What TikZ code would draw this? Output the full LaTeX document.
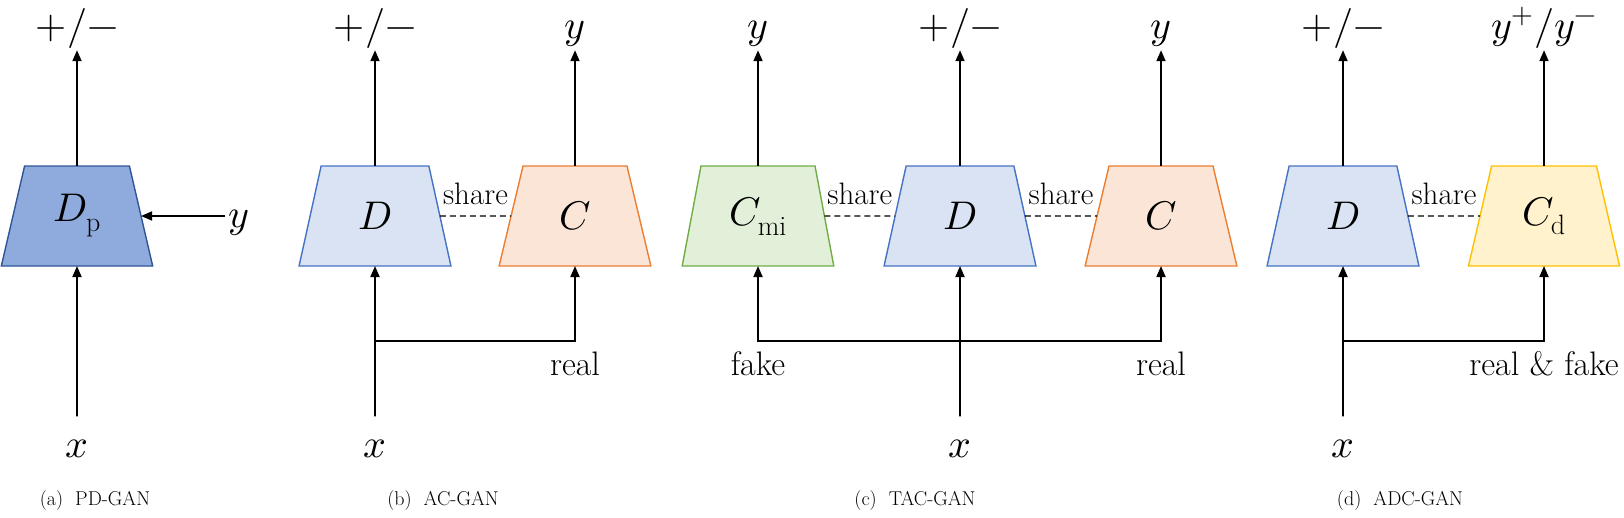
\documentclass[tikz,border=0pt]{standalone}
\usepackage{fontspec}
\usepackage{unicode-math}
\newfontfamily\labelfont{Latin Modern Roman}
\usetikzlibrary{shapes.geometric,arrows.meta,positioning}

\definecolor{dpfill}{HTML}{8FAADC}
\definecolor{dpline}{HTML}{2F5597}
\definecolor{dfill}{HTML}{DAE3F3}
\definecolor{dline}{HTML}{4472C4}
\definecolor{cfill}{HTML}{FBE5D6}
\definecolor{cline}{HTML}{ED7D31}
\definecolor{mifill}{HTML}{E2F0D9}
\definecolor{miline}{HTML}{70AD47}
\definecolor{cdfill}{HTML}{FFF2CC}
\definecolor{cdline}{HTML}{FFC000}

\newcommand{\mathsize}{\fontsize{40}{48}\selectfont}
\newcommand{\labelsize}{\labelfont\fontsize{34}{40}\selectfont}
\newcommand{\sharesize}{\labelfont\fontsize{31}{36}\selectfont}
\newcommand{\capsize}{\labelfont\fontsize{20}{24}\selectfont}
\newcommand{\advlabel}{{+}/{-}}
\newcommand{\clslabel}{y^{+}/y^{-}}

\tikzset{%
  every net/.style={
    trapezium,
    trapezium stretches=true,
    trapezium left angle=76,
    trapezium right angle=76,
    minimum width=152pt,
    minimum height=100pt,
    inner sep=0pt,
    outer sep=0pt,
    line width=1.4pt,
    font=\mathsize
  },
  net Dp/.style={draw=dpline, fill=dpfill},
  net D/.style={draw=dline, fill=dfill},
  net C/.style={draw=cline, fill=cfill},
  net Cmi/.style={draw=miline, fill=mifill},
  net Cd/.style={draw=cdline, fill=cdfill},
  arr/.style={-{Triangle[length=11pt,width=9pt]}, line width=1.8pt},
  share line/.style={dash pattern=on 6pt off 4pt, line width=1.4pt},
  out label/.style={font=\mathsize, anchor=base, text depth=10pt, inner sep=2pt},
  in label/.style={font=\mathsize, anchor=base, inner sep=2pt, outer ysep=21pt},
  src label/.style={font=\labelsize, anchor=base},
  share label/.style={font=\sharesize, above=9pt, inner sep=2pt},
  caption/.style={font=\capsize, anchor=base},
}

\begin{document}
\begin{tikzpicture}[x=1pt, y=-1pt]

\useasboundingbox (0,0) rectangle (1624,517);

% Networks
\foreach \n/\s/\x/\t in {a-D/Dp/77/D_{\mathrm{p}}, b-D/D/375/D, b-C/C/575/C,
    c-Cmi/Cmi/758/C_{\mathrm{mi}}, c-D/D/960/D, c-C/C/1161/C,
    d-D/D/1343/D, d-C/Cd/1544/C_{\mathrm{d}}}
  \node [every net/.try, net \s/.try] (\n) at (\x,216) {$\t$};

% Outputs
\foreach \n/\t in {a-D/\advlabel, b-D/\advlabel, b-C/y, c-Cmi/y,
    c-D/\advlabel, c-C/y, d-D/\advlabel, d-C/\clslabel} {
  \node [out label] (\n-out) at (\n.north |- 0,38) {$\t$};
  \draw [arr] (\n.north) -- (\n-out.south);
}

% Inputs
\foreach \p/\x in {a/77, b/375, c/960, d/1343} {
  \node [in label] (\p-x) at (\x,457) {$x$};
  \draw [arr] (\p-x.north) -- (\p-D.south);
}

\node [font=\mathsize] (a-y) at (239,223) {$y$};
\draw [arr] (a-y.west |- a-D.east) -- (a-D.east);

% Branches to the classifiers
\coordinate (b-j) at (b-x.north |- 0,341);
\coordinate (c-j) at (c-x.north |- 0,341);
\coordinate (d-j) at (d-x.north |- 0,341);
\draw [arr] (b-j) -| (b-C.south);
\draw [arr] (c-j) -| (c-Cmi.south);
\draw [arr] (c-j) -| (c-C.south);
\draw [arr] (d-j) -| (d-C.south);

\node [src label] (b-real) at (b-C.south |- 0,375) {real};
\node [src label] (c-fake) at (c-Cmi.south |- 0,375) {fake};
\node [src label] (c-real) at (c-C.south |- 0,375) {real};
\node [src label] (d-both) at (d-C.south |- 0,375) {real \& fake};

% Shared weights
\foreach \l/\r in {b-D/b-C, c-Cmi/c-D, c-D/c-C, d-D/d-C}
  \draw [share line] (\l.east) -- (\r.west)
    node [share label, midway] {share};

% Captions
\foreach \x/\l in {95/(a)~~PD-GAN, 443/(b)~~AC-GAN, 915/(c)~~TAC-GAN, 1400/(d)~~ADC-GAN}
  \node [caption] at (\x,505) {\l};

\end{tikzpicture}
\end{document}
